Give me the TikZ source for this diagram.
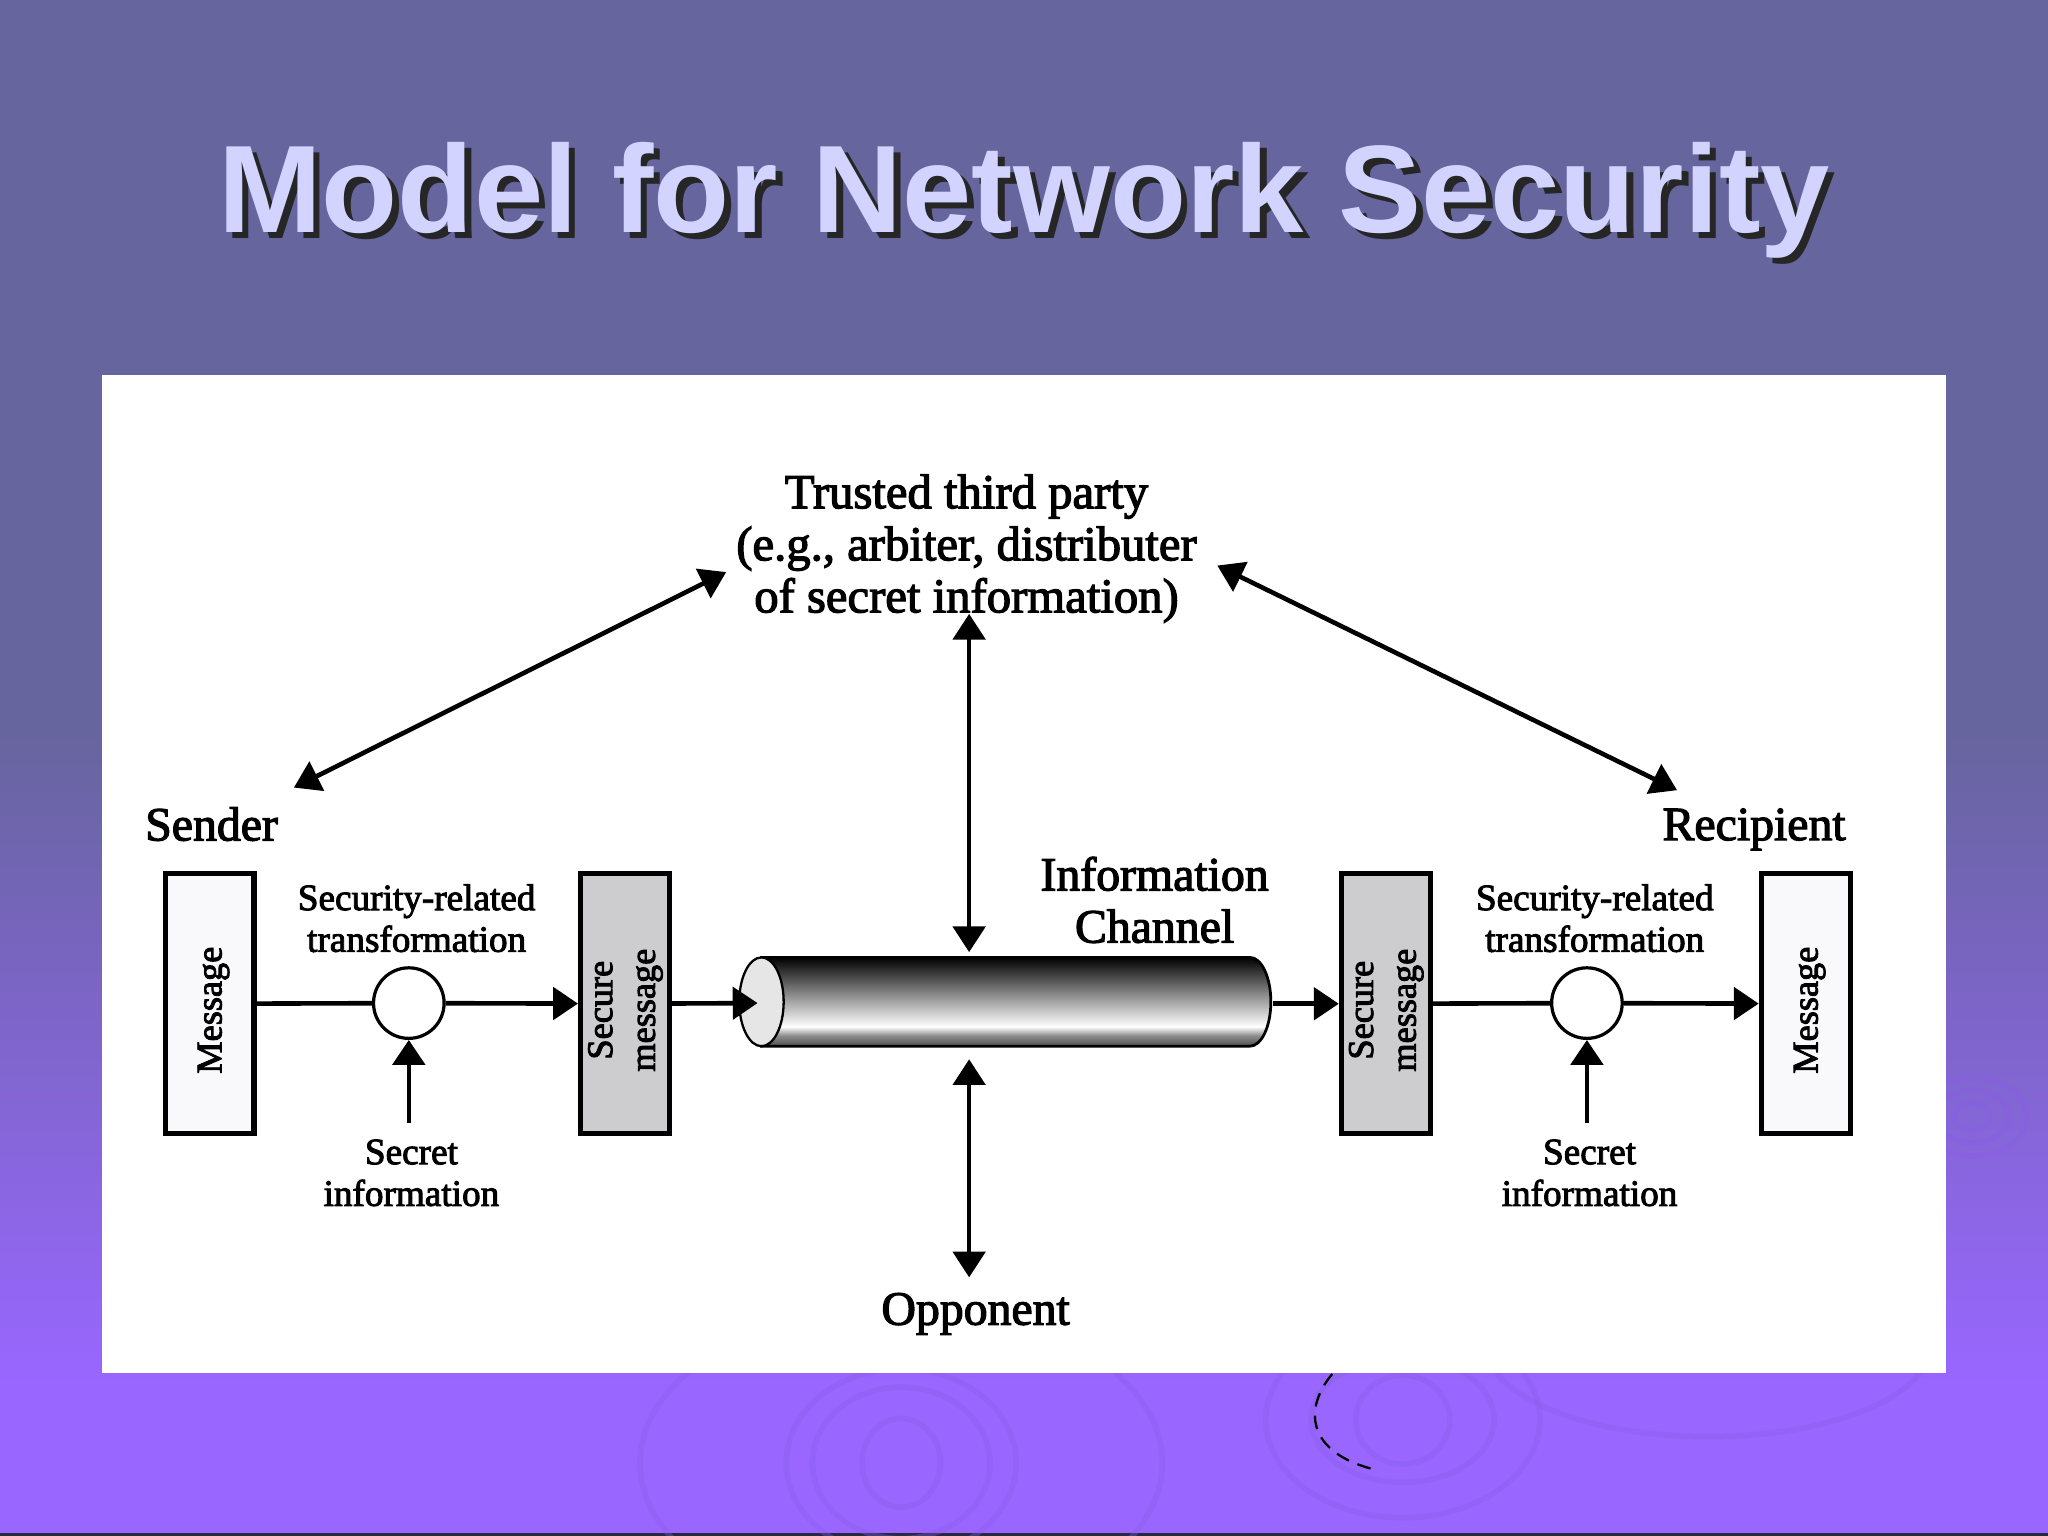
\documentclass[tikz,border=0pt]{standalone}
\usepackage{fontspec}
\usetikzlibrary{arrows.meta}
\setmainfont[FakeBold=2.5]{Liberation Serif}
\newfontfamily\titlefont{Liberation Sans}
\definecolor{slidetop}{HTML}{67659E}
\definecolor{slidelow}{HTML}{9966FF}
\definecolor{ripple}{HTML}{8A5CE6}
\definecolor{titleink}{HTML}{D2D4FF}
\definecolor{msgfill}{HTML}{F9F9FB}
\definecolor{securefill}{HTML}{CDCDCF}
\definecolor{capfill}{HTML}{E6E6E6}
\pgfdeclareverticalshading{pipeshade}{100bp}{color(0bp)=(black!70); color(25bp)=(black!70); color(31bp)=(black!45); color(36bp)=(white); color(50bp)=(black!35); color(75bp)=(black); color(100bp)=(black)}
\newcommand{\msgtext}{\hspace*{1.7pt}\rotatebox{90}{Message\hspace{2.8pt}}}
\newcommand{\sectext}{\rotatebox{90}{\begin{tabular}{@{}c@{}}Secure\\message\end{tabular}\hspace{2.8pt}}}
\begin{document}
\begin{tikzpicture}[x=0.01cm,y=0.01cm]
\tikzstyle{every node}+=[inner sep=0pt]
\tikzstyle{big}=[font=\fontsize{10.4}{11.34}\selectfont,align=center]
\tikzstyle{wide}=[font=\fontsize{10.6}{11.34}\selectfont,align=center]
\tikzstyle{small}=[font=\fontsize{8.1}{9.07}\selectfont,align=center]
\tikzstyle{box}=[draw=black,line width=1.13pt,minimum width=0.68cm,minimum height=1.99cm,font=\fontsize{7.9}{9.3}\selectfont]
\tikzstyle{mixer}=[circle,draw=black,line width=0.7pt,fill=white,minimum size=0.54cm]
\tikzstyle{wire}=[draw=black,line width=1pt]
\tikzstyle{flow}=[wire,-{Triangle[length=5.4pt,width=7pt]}]
\tikzstyle{both}=[wire,{Triangle[length=5.6pt,width=7pt]}-{Triangle[length=5.6pt,width=7pt]}]
\tikzstyle{ring}=[draw=ripple,line width=1.2pt,opacity=0.35]
\tikzstyle{headline}=[font=\titlefont\bfseries\fontsize{27.1}{30}\selectfont]
\useasboundingbox (0,-1176) rectangle (1568,0);
\fill [slidetop] (0,-1176) rectangle (1568,0);
\shade [top color=slidetop,bottom color=slidelow] (0,-560) rectangle (1568,-1060);
\fill [slidelow] (0,-1060) rectangle (1568,-1176);
\fill [black!60!slidetop] (0,-1174) rectangle (1568,-1176);
\draw [ring] (690,-1120) ellipse (30 and 34);
\draw [ring] (690,-1120) ellipse (68 and 58);
\draw [ring] (690,-1120) ellipse (88 and 72);
\draw [ring] (690,-1120) ellipse (200 and 120);
\draw [ring] (1074,-1087) ellipse (36 and 34);
\draw [ring] (1074,-1087) ellipse (70 and 48);
\draw [ring] (1074,-1087) ellipse (105 and 75);
\draw [ring] (1308,-1030) ellipse (170 and 70);
\draw [ring] (1510,-855) ellipse (14 and 10);
\draw [ring] (1510,-855) ellipse (28 and 20);
\draw [ring] (1510,-855) ellipse (42 and 30);
\fill [white] (78,-1051) rectangle (1490,-287);
\draw [black,densely dashed,line width=0.5pt] (1020,-1052) .. controls (998,-1078) and (1000,-1112) .. (1052,-1125);
\node (titleback) at (789,-158) [headline,text=black!85] {Model for Network Security};
\node (title) at (784,-153) [headline,text=titleink] {Model for Network Security};
\node (trusted) at (740,-420) [wide] {Trusted third party\\(e.g., arbiter, distributer\\of secret information)};
\node (sender) at (162,-631) [big] {Sender};
\node (recipient) at (1343,-635) [big] {Recipient};
\node (chanlabel) at (884,-689) [big] {Information\\Channel};
\node (opponent) at (747,-1006) [big] {Opponent};
\node (msgleft) at (160.5,-768.5) [box,fill=msgfill] {\msgtext};
\node (secleft) at (478.5,-768.5) [box,fill=securefill] {\sectext};
\node (secright) at (1061,-768.5) [box,fill=securefill] {\sectext};
\node (msgright) at (1382.5,-768.5) [box,fill=msgfill] {\msgtext};
\node (mixleft) at (313,-768) [mixer] {};
\node (mixright) at (1215,-768) [mixer] {};
\node (relleft) at (319,-703) [small] {Security-related\\transformation};
\node (relright) at (1221,-703) [small] {Security-related\\transformation};
\node (secretleft) at (315,-898) [small] {Secret\\information};
\node (secretright) at (1217,-898) [small] {Secret\\information};
\node (channel) at (770,-767) [minimum width=4.07cm,minimum height=0.68cm] {};
\shade [shading=pipeshade,draw=black,line width=0.6pt] (583,-733) -- (957,-733) arc (90:-90:16 and 34) -- (583,-801) -- cycle;
\draw [black,line width=0.5pt,fill=capfill] (583,-767) ellipse (17 and 34);
\coordinate (chanin) at (580,-768);
\coordinate (chantop) at (742,-729);
\coordinate (chanbot) at (742,-811);
\coordinate (trustbot) at (742,-470);
\coordinate (oppontop) at (742,-978);
\coordinate (trustleft) at (556,-438);
\coordinate (trustright) at (932,-433);
\coordinate (senderup) at (225,-603);
\coordinate (recipup) at (1284,-605);
\coordinate (secretupl) at (313,-860);
\coordinate (secretupr) at (1215,-860);
\draw [wire] (msgleft) -- (mixleft);
\draw [flow] (mixleft) -- (secleft);
\draw [flow] (secleft) -- (chanin);
\draw [flow] (channel.east |- secright.west) -- (secright);
\draw [wire] (secright) -- (mixright);
\draw [flow] (mixright) -- (msgright);
\draw [flow] (secretupl) -- (mixleft);
\draw [flow] (secretupr) -- (mixright);
\draw [both] (trustbot) -- (chantop);
\draw [both] (chanbot) -- (oppontop);
\draw [both] (senderup) -- (trustleft);
\draw [both] (trustright) -- (recipup);
\end{tikzpicture}
\end{document}
